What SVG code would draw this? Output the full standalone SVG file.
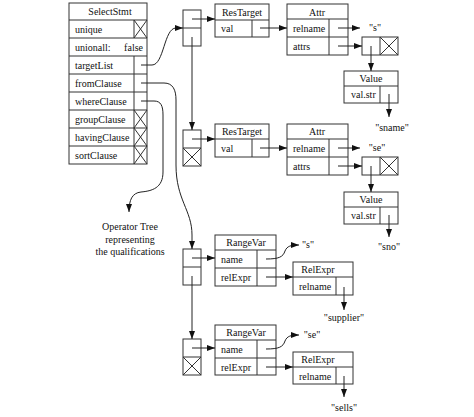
<svg xmlns="http://www.w3.org/2000/svg" width="474" height="417" viewBox="0 0 474 417">
<style>
rect,line.b{fill:none;stroke:#333;stroke-width:1}
.x{stroke:#333;stroke-width:1}
text{font-family:"Liberation Serif","Times New Roman",serif;font-size:10px;fill:#111}
.c{text-anchor:middle}
.a{fill:none;stroke:#222;stroke-width:1;marker-end:url(#ah)}
</style>
<defs>
<marker id="ah" markerWidth="9" markerHeight="6" refX="8" refY="3" orient="auto" markerUnits="userSpaceOnUse">
<path d="M0,0 L8,3 L0,6 z" fill="#111"/>
</marker>
</defs>
<rect x="0" y="0" width="474" height="417" fill="#fff" style="stroke:none"/>

<g id="selectstmt">
<rect x="69" y="3" width="78" height="161"/>
<line class="x" x1="69" y1="20" x2="147" y2="20"/>
<line class="x" x1="69" y1="38" x2="147" y2="38"/>
<line class="x" x1="69" y1="56" x2="147" y2="56"/>
<line class="x" x1="69" y1="74" x2="147" y2="74"/>
<line class="x" x1="69" y1="92" x2="147" y2="92"/>
<line class="x" x1="69" y1="110" x2="147" y2="110"/>
<line class="x" x1="69" y1="128" x2="147" y2="128"/>
<line class="x" x1="69" y1="146" x2="147" y2="146"/>
<line class="x" x1="134" y1="20" x2="134" y2="38"/>
<line class="x" x1="134" y1="56" x2="134" y2="164"/>
<path class="x" d="M134,20 L147,38 M147,20 L134,38 M134,110 L147,128 M147,110 L134,128 M134,128 L147,146 M147,128 L134,146 M134,146 L147,164 M147,146 L134,164"/>
<text class="c" x="110" y="15">SelectStmt</text>
<text x="75" y="33">unique</text>
<text x="75" y="51">unionall:</text>
<text x="143" y="51" text-anchor="end">false</text>
<text x="75" y="69">targetList</text>
<text x="75" y="87">fromClause</text>
<text x="75" y="105">whereClause</text>
<text x="75" y="123">groupClause</text>
<text x="75" y="141">havingClause</text>
<text x="75" y="159">sortClause</text>
</g>

<g id="list1">
<rect x="183" y="10" width="18" height="36"/>
<line class="x" x1="183" y1="28" x2="201" y2="28"/>
</g>
<g id="restarget1">
<rect x="215" y="4" width="54" height="33"/>
<line class="x" x1="215" y1="20" x2="269" y2="20"/>
<line class="x" x1="252" y1="20" x2="252" y2="37"/>
<text class="c" x="242" y="16">ResTarget</text>
<text x="221" y="32">val</text>
</g>
<g id="attr1">
<rect x="287" y="4" width="61" height="51"/>
<line class="x" x1="287" y1="19" x2="348" y2="19"/>
<line class="x" x1="287" y1="37" x2="348" y2="37"/>
<line class="x" x1="329" y1="19" x2="329" y2="55"/>
<text class="c" x="317" y="16">Attr</text>
<text x="293" y="32">relname</text>
<text x="293" y="50">attrs</text>
</g>
<g id="attrlist1">
<rect x="362" y="37" width="36" height="18"/>
<line class="x" x1="380" y1="37" x2="380" y2="55"/>
<path class="x" d="M380,37 L398,55 M398,37 L380,55"/>
</g>
<g id="value1">
<rect x="344" y="71" width="54" height="32"/>
<line class="x" x1="344" y1="86" x2="398" y2="86"/>
<line class="x" x1="380" y1="86" x2="380" y2="103"/>
<text class="c" x="371" y="82">Value</text>
<text x="351" y="98">val.str</text>
</g>
<text id="s1" class="c" x="375" y="31">"s"</text>
<text id="sname" class="c" x="392" y="131">"sname"</text>

<g id="list2">
<rect x="183" y="130" width="18" height="36"/>
<line class="x" x1="183" y1="148" x2="201" y2="148"/>
<path class="x" d="M183,148 L201,166 M201,148 L183,166"/>
</g>
<g id="restarget2">
<rect x="215" y="124" width="54" height="33"/>
<line class="x" x1="215" y1="139" x2="269" y2="139"/>
<line class="x" x1="252" y1="139" x2="252" y2="157"/>
<text class="c" x="242" y="135">ResTarget</text>
<text x="221" y="152">val</text>
</g>
<g id="attr2">
<rect x="287" y="124" width="61" height="51"/>
<line class="x" x1="287" y1="139" x2="348" y2="139"/>
<line class="x" x1="287" y1="157" x2="348" y2="157"/>
<line class="x" x1="329" y1="139" x2="329" y2="175"/>
<text class="c" x="317" y="135">Attr</text>
<text x="293" y="152">relname</text>
<text x="293" y="170">attrs</text>
</g>
<g id="attrlist2">
<rect x="362" y="157" width="36" height="18"/>
<line class="x" x1="380" y1="157" x2="380" y2="175"/>
<path class="x" d="M380,157 L398,175 M398,157 L380,175"/>
</g>
<g id="value2">
<rect x="344" y="192" width="54" height="32"/>
<line class="x" x1="344" y1="207" x2="398" y2="207"/>
<line class="x" x1="380" y1="207" x2="380" y2="224"/>
<text class="c" x="371" y="203">Value</text>
<text x="351" y="219">val.str</text>
</g>
<text id="se1" class="c" x="377" y="151">"se"</text>
<text id="sno" class="c" x="389" y="250">"sno"</text>

<g id="optree">
<text class="c" x="130" y="230">Operator Tree</text>
<text class="c" x="130" y="243">representing</text>
<text class="c" x="130" y="255">the qualifications</text>
</g>

<g id="list3">
<rect x="183" y="249" width="18" height="36"/>
<line class="x" x1="183" y1="267" x2="201" y2="267"/>
</g>
<g id="rangevar1">
<rect x="215" y="235" width="61" height="51"/>
<line class="x" x1="215" y1="250" x2="276" y2="250"/>
<line class="x" x1="215" y1="268" x2="276" y2="268"/>
<line class="x" x1="257" y1="250" x2="257" y2="286"/>
<text class="c" x="246" y="246">RangeVar</text>
<text x="221" y="263">name</text>
<text x="221" y="281">relExpr</text>
</g>
<g id="relexpr1">
<rect x="293" y="262" width="60" height="33"/>
<line class="x" x1="293" y1="277" x2="353" y2="277"/>
<line class="x" x1="336" y1="277" x2="336" y2="295"/>
<text class="c" x="318" y="273">RelExpr</text>
<text x="299" y="290">relname</text>
</g>
<text id="s2" class="c" x="308" y="248">"s"</text>
<text id="supplier" class="c" x="344" y="321">"supplier"</text>

<g id="list4">
<rect x="183" y="339" width="18" height="36"/>
<line class="x" x1="183" y1="357" x2="201" y2="357"/>
<path class="x" d="M183,357 L201,375 M201,357 L183,375"/>
</g>
<g id="rangevar2">
<rect x="215" y="325" width="61" height="50"/>
<line class="x" x1="215" y1="340" x2="276" y2="340"/>
<line class="x" x1="215" y1="358" x2="276" y2="358"/>
<line class="x" x1="257" y1="340" x2="257" y2="375"/>
<text class="c" x="246" y="336">RangeVar</text>
<text x="221" y="353">name</text>
<text x="221" y="371">relExpr</text>
</g>
<g id="relexpr2">
<rect x="293" y="352" width="60" height="32"/>
<line class="x" x1="293" y1="367" x2="353" y2="367"/>
<line class="x" x1="336" y1="367" x2="336" y2="384"/>
<text class="c" x="318" y="363">RelExpr</text>
<text x="299" y="380">relname</text>
</g>
<text id="se2" class="c" x="312" y="338">"se"</text>
<text id="sells" class="c" x="344" y="411">"sells"</text>

<g id="connectors">
<path class="a" d="M141,65 L152,65 C164,65 164,28 176,28 L183,28"/>
<path class="a" d="M141,83 L164,83 C173,83 176,90 176,100 L176,165 C176,200 192,210 192,235 L192,249"/>
<path class="a" d="M141,101 L154,101 C161,101 163,106 163,115 L163,172 C163,188 152,191 141,192 C132,193 129,200 129,212"/>
<path class="a" d="M192,19 L215,19"/>
<path class="a" d="M260,28 L287,28"/>
<path class="a" d="M338,28 L360,28"/>
<path class="a" d="M338,46 L362,46"/>
<path class="a" d="M371,46 L371,71"/>
<path class="a" d="M389,94 L389,117"/>
<path class="a" d="M192,37 L192,130"/>
<path class="a" d="M192,139 L215,139"/>
<path class="a" d="M260,148 L287,148"/>
<path class="a" d="M338,148 L360,148"/>
<path class="a" d="M338,166 L362,166"/>
<path class="a" d="M371,166 L371,192"/>
<path class="a" d="M389,215 L389,237"/>
<path class="a" d="M192,258 L215,258"/>
<path class="a" d="M266,259 C279,259 283,257 285,251 C287,246 291,245 299,245"/>
<path class="a" d="M266,277 L293,277"/>
<path class="a" d="M344,287 L344,310"/>
<path class="a" d="M192,276 L192,339"/>
<path class="a" d="M192,348 L215,348"/>
<path class="a" d="M266,349 C279,349 283,347 285,341 C287,336 291,335 299,335"/>
<path class="a" d="M266,367 L293,367"/>
<path class="a" d="M344,376 L344,397"/>
</g>
</svg>
